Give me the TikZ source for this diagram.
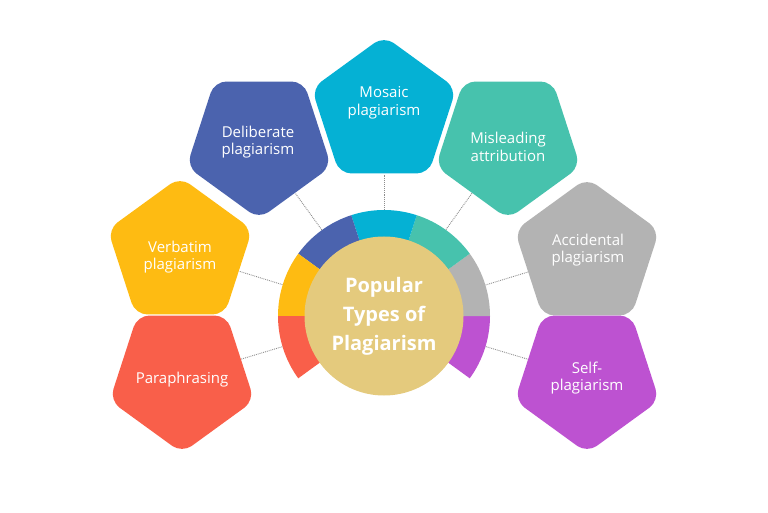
\documentclass[tikz,border=0pt]{standalone}
\usepackage{fontspec}
\setmainfont{Open Sans}
\usetikzlibrary{shapes.geometric}
\pgfdeclarelayer{bg}
\pgfdeclarelayer{mid}
\pgfsetlayers{bg,mid,main}
\definecolor{cred}{HTML}{F95F4A}
\definecolor{cyellow}{HTML}{FEBB12}
\definecolor{cblue}{HTML}{4B63AE}
\definecolor{ccyan}{HTML}{05B1D4}
\definecolor{cteal}{HTML}{47C2AD}
\definecolor{cgray}{HTML}{B3B3B3}
\definecolor{cpurple}{HTML}{BD52D1}
\definecolor{cgold}{HTML}{E4CA7D}
\begin{document}
\begin{tikzpicture}[x=1pt,y=1pt,
  pent/.style={regular polygon, regular polygon sides=5, minimum size=152pt,
    inner sep=0pt, rounded corners=12pt, draw=none},
  dn/.style={shape border rotate=180},
  lbl/.style={text=white, font=\fontsize{15}{17.5}\selectfont, align=center, inner sep=0pt},
  conn/.style={draw=black!45, densely dotted, line width=0.9pt}]
\useasboundingbox (0,0) rectangle (768,512);

% hub
\node[circle, fill=cgold, minimum size=159pt, inner sep=0pt, text=white,
  font=\bfseries\fontsize{20}{29}\selectfont, align=center] (c) at (384,196)
  {Popular\\Types of\\Plagiarism};

% pentagons
\node[pent, dn, fill=cred]    (p1) at (182,135) {};
\node[pent,     fill=cyellow] (p2) at (180,259) {};
\node[pent, dn, fill=cblue]   (p3) at (259,369) {};
\node[pent,     fill=ccyan]   (p4) at (384,400) {};
\node[pent, dn, fill=cteal]   (p5) at (508,369) {};
\node[pent,     fill=cgray]   (p6) at (587,258) {};
\node[pent, dn, fill=cpurple] (p7) at (587,135) {};

% labels
\node[lbl] (t1) at (182,132) {Paraphrasing};
\node[lbl] (t2) at (180,255) {Verbatim\\plagiarism};
\node[lbl] (t3) at (258,370) {Deliberate\\plagiarism};
\node[lbl] (t4) at (384,409) {Mosaic\\plagiarism};
\node[lbl] (t5) at (508,365) {Misleading\\attribution};
\node[lbl] (t6) at (588,262) {Accidental\\plagiarism};
\node[lbl] (t7) at (587,134) {Self-\\plagiarism};

% ring segments
\begin{pgfonlayer}{mid}
\foreach \a/\col in {-36/cpurple,0/cgray,36/cteal,72/ccyan,108/cblue,144/cyellow,180/cred}{
  \fill[\col, shift={(c.center)}] (\a:70) arc[start angle=\a, delta angle=36, radius=70]
    -- ({\a+36}:106) arc[start angle={\a+36}, delta angle=-36, radius=106] -- cycle;
}
\end{pgfonlayer}

% connectors
\begin{pgfonlayer}{bg}
\foreach \p in {p1,p2,p3,p4,p5,p6,p7}{
  \draw[conn] (c) -- (\p);
}
\end{pgfonlayer}
\end{tikzpicture}
\end{document}
